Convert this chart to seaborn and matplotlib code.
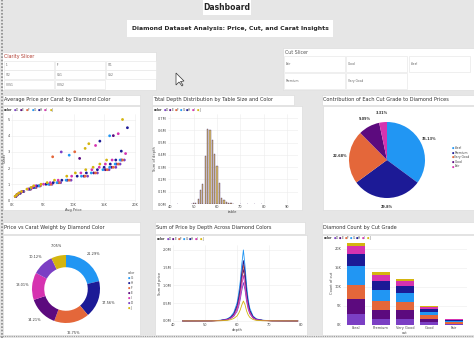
import numpy as np
import pandas as pd
import matplotlib
matplotlib.use("Agg")
import matplotlib.pyplot as plt
from matplotlib.patches import Rectangle
from matplotlib.lines import Line2D
import seaborn as sns

# ---------------- data ----------------
color_names = ["D", "E", "F", "G", "H", "I", "J"]
color_hex = {"G": "#2196f3", "H": "#1c1a96", "F": "#e4673a", "E": "#5c0a7e",
             "I": "#d633b0", "D": "#7b3fc4", "J": "#d4b50f"}

# scatter: avg price per carat, per colour
sc_carat = [0.25, 0.35, 0.45, 0.55, 0.7, 0.8, 0.9, 1.0, 1.1, 1.25, 1.5, 1.7, 1.9, 2.05, 2.25, 2.5]
sc_price_D = [620, 900, 1350, 1900, 3050, 3900, 4600, 6500, 7900, 9600, 12300, 13900, 15800, 16900, 17600, 18300]
sc_price_E = [580, 860, 1280, 1800, 2900, 3700, 4400, 6100, 7500, 9000, 11700, 13300, 15200, 16200, 17000, 17800]
sc_price_F = [600, 880, 1320, 1850, 2950, 3800, 4500, 6300, 7700, 9300, 11900, 13600, 15500, 16500, 17300, 18000]
sc_price_G = [560, 840, 1250, 1780, 2850, 3650, 4300, 5900, 7300, 8800, 11300, 12900, 14800, 15900, 16800, 17600]
sc_price_H = [530, 800, 1180, 1700, 2700, 3450, 4000, 5500, 6700, 8100, 10600, 12100, 13900, 15000, 16000, 16900]
sc_price_I = [500, 760, 1120, 1600, 2550, 3250, 3750, 5100, 6200, 7500, 9700, 11200, 13000, 14200, 15200, 16300]
sc_price_J = [470, 720, 1050, 1500, 2400, 3050, 3500, 4700, 5700, 6900, 8900, 10300, 12000, 13200, 14300, 15400]
out_color = ["J", "H", "I", "G", "E", "H", "J", "I", "D", "F", "H", "G", "J", "F", "E", "I"]
out_carat = [5.01, 4.5, 4.13, 4.0, 4.01, 3.67, 3.51, 3.4, 3.0, 3.01, 3.05, 2.8, 3.22, 2.7, 2.6, 2.9]
out_price = [18000, 18800, 17300, 15900, 16500, 14300, 12500, 13600, 8000, 10200, 17800, 9300, 11900, 6600, 11000, 18500]

# table distribution (sum of depth, millions)
table_vals = [43, 49, 50, 51, 52, 53, 54, 55, 56, 57, 58, 59, 60, 61, 62, 63, 64, 65, 66, 67, 70, 73, 76, 79, 95]
table_depth_sum = [0.001, 0.002, 0.006, 0.012, 0.04, 0.11, 0.16, 0.39, 0.61, 0.60, 0.52, 0.41, 0.31,
                   0.17, 0.05, 0.03, 0.02, 0.01, 0.006, 0.004, 0.002, 0.001, 0.001, 0.001, 0.001]

# pie: contribution of cut to price
cut_labels = ["Ideal", "Premium", "Very Good", "Good", "Fair"]
cut_share = [35.13, 29.8, 22.68, 9.09, 3.31]
cut_colors = ["#2196f3", "#1c1a96", "#e4673a", "#5c0a7e", "#d633b0"]

# donut: price share by colour
donut_labels = ["G", "H", "F", "E", "I", "D", "J"]
donut_share = [21.29, 17.56, 16.75, 14.21, 13.01, 10.12, 7.05]

# line: sum of price by depth (millions)
depths = [43, 52, 55, 57, 58, 59, 60, 60.5, 61, 61.5, 62, 62.5, 63, 63.5, 64, 65, 66, 68, 71, 79]
line_G = [0, 0.005, 0.02, 0.06, 0.12, 0.24, 0.5, 0.76, 1.1, 1.6, 2.0, 1.55, 1.0, 0.6, 0.36, 0.14, 0.06, 0.02, 0.006, 0]
line_H = [0, 0.004, 0.017, 0.05, 0.1, 0.2, 0.43, 0.65, 0.94, 1.36, 1.7, 1.38, 0.85, 0.52, 0.3, 0.12, 0.05, 0.017, 0.005, 0]
line_F = [0, 0.004, 0.016, 0.048, 0.1, 0.19, 0.4, 0.6, 0.88, 1.25, 1.58, 1.3, 0.8, 0.48, 0.28, 0.11, 0.05, 0.016, 0.005, 0]
line_E = [0, 0.003, 0.015, 0.045, 0.09, 0.18, 0.37, 0.56, 0.83, 1.2, 1.45, 1.2, 0.75, 0.45, 0.27, 0.1, 0.045, 0.015, 0.004, 0]
line_I = [0, 0.003, 0.013, 0.04, 0.08, 0.15, 0.32, 0.48, 0.7, 1.02, 1.28, 1.0, 0.64, 0.38, 0.23, 0.09, 0.04, 0.013, 0.004, 0]
line_D = [0, 0.002, 0.01, 0.03, 0.065, 0.13, 0.27, 0.4, 0.6, 0.86, 1.08, 0.88, 0.55, 0.33, 0.2, 0.08, 0.03, 0.01, 0.003, 0]
line_J = [0, 0.001, 0.006, 0.017, 0.035, 0.07, 0.14, 0.21, 0.31, 0.45, 0.56, 0.46, 0.28, 0.17, 0.1, 0.04, 0.017, 0.006, 0.002, 0]

# stacked bars: count by cut and colour
bar_D = [2834, 1603, 1513, 662, 163]
bar_E = [3903, 2337, 2400, 933, 224]
bar_F = [3826, 2331, 2164, 909, 312]
bar_G = [4884, 2924, 2299, 871, 314]
bar_H = [3115, 2360, 1824, 702, 303]
bar_I = [2093, 1428, 1204, 522, 175]
bar_J = [896, 808, 678, 307, 119]

clarity_items = ["I1", "IF", "SI1", "SI2", "VS1", "VS2", "VVS1", "VVS2"]
cut_items = ["Fair", "Good", "Ideal", "Premium", "Very Good"]

# ---------------- figure ----------------
sns.set_theme(style="white")
plt.rcParams["font.family"] = ["DejaVu Sans"]
W, H = 474, 338
fig = plt.figure(figsize=(W / 100, H / 100), dpi=100)
fig.patch.set_facecolor("#e6e6e6")


def fx(x):
    return x / W


def fy(y):
    return 1 - y / H


def box(x, y, w, h, fc="white", ec="#d8d8d8", lw=0.4):
    fig.add_artist(Rectangle((fx(x), fy(y + h)), w / W, h / H, transform=fig.transFigure,
                             facecolor=fc, edgecolor=ec, lw=lw, zorder=0))


def ax_px(x, y, w, h):
    return fig.add_axes([fx(x), fy(y + h), w / W, h / H])


def txt(x, y, s, **kw):
    return fig.text(fx(x), fy(y), s, **kw)


def legend_row(x, y, labels, step=6.0):
    txt(x, y, "color", fontsize=2.2, fontweight="bold", color="#333", va="center")
    cx = x + 9.5
    for lb in labels:
        txt(cx, y, "●", fontsize=2.0, color=color_hex[lb], va="center")
        txt(cx + 2.2, y, lb, fontsize=2.2, color="#444", va="center")
        cx += step


def style_ax(ax):
    ax.set_facecolor("white")
    for s in ax.spines.values():
        s.set_visible(False)
    ax.tick_params(labelsize=2.5, length=0, pad=1, colors="#444")
    ax.grid(True, color="#ececec", lw=0.4)


# titles
box(203, 0, 48, 15, ec="none")
txt(227, 7.5, "Dashboard", fontsize=5.5, fontweight="bold", ha="center", va="center")
box(127, 20, 206, 17, ec="none")
txt(230, 28.5, "Diamond Dataset Analysis: Price, Cut, and Carat Insights", fontsize=4.4,
    fontweight="bold", ha="center", va="center")

# clarity slicer
box(2, 52, 154, 38)
txt(4, 56.5, "Clarity Slicer", fontsize=3.4, color="#b03a2e", va="center")
cols = [4, 55, 106]
rows = [61, 70, 80]
for i, it in enumerate(clarity_items):
    r, c = divmod(i, 3)
    box(cols[c], rows[r], 50, 9, ec="#e4e4e4")
    txt(cols[c] + 2, rows[r] + 4.5, it, fontsize=2.2, color="#666", va="center")

# cut slicer
box(283, 48, 191, 42)
txt(285, 52, "Cut Slicer", fontsize=3.4, color="#555", va="center")
ccols = [284, 346, 409]
crows = [56, 73]
for i, it in enumerate(cut_items):
    r, c = divmod(i, 3)
    box(ccols[c], crows[r], 61, 16, ec="#e4e4e4")
    txt(ccols[c] + 2, crows[r] + 8, it, fontsize=2.2, color="#666", va="center")

# cursor
fig.add_artist(plt.Polygon([[fx(176), fy(73)], [fx(176), fy(85)], [fx(179), fy(82)], [fx(182), fy(86)],
                            [fx(183), fy(85)], [fx(180.5), fy(81.5)], [fx(184), fy(81)]],
                           closed=True, transform=fig.transFigure, facecolor="white",
                           edgecolor="#333", lw=0.5))

# panel boxes
panels = [(3, 95, 137, 10, 3, 106, 137, 104, "Average Price per Carat by Diamond Color"),
          (152, 95, 142, 10, 152, 106, 150, 104, "Total Depth Distribution by Table Size and Color"),
          (322, 95, 152, 10, 323, 106, 151, 104, "Contribution of Each Cut Grade to Diamond Prices"),
          (3, 222, 137, 12, 3, 235, 137, 100, "Price vs Carat Weight by Diamond Color"),
          (155, 222, 150, 12, 155, 235, 152, 100, "Sum of Price by Depth Across Diamond Colors"),
          (322, 222, 152, 12, 322, 235, 152, 100, "Diamond Count by Cut Grade")]
for tx, ty, tw, th, px, py, pw, ph, title in panels:
    box(px, py, pw, ph)
    box(tx, ty, tw, th)
    txt(tx + 1, ty + th / 2, title, fontsize=3.6, color="#333", va="center")

# ---------- scatter ----------
rows_sc = []
price_lists = {"D": sc_price_D, "E": sc_price_E, "F": sc_price_F, "G": sc_price_G,
               "H": sc_price_H, "I": sc_price_I, "J": sc_price_J}
for cname in color_names:
    for k, p in zip(sc_carat, price_lists[cname]):
        rows_sc.append((cname, k, p))
for cname, k, p in zip(out_color, out_carat, out_price):
    rows_sc.append((cname, k, p))
df_sc = pd.DataFrame(rows_sc, columns=["color", "carat", "price"])
ax1 = ax_px(11, 114, 125, 88)
style_ax(ax1)
sns.scatterplot(data=df_sc, x="price", y="carat", hue="color", palette=color_hex, s=4,
                linewidth=0, ax=ax1, legend=False)
ax1.set_xlim(-200, 20200)
ax1.set_ylim(-0.1, 5.35)
ax1.set_xticks([0, 5000, 10000, 15000, 20000])
ax1.set_xticklabels(["0K", "5K", "10K", "15K", "20K"])
ax1.set_yticks([0, 1, 2, 3, 4, 5])
ax1.set_xlabel("Avg Price", fontsize=2.6, labelpad=0.5, color="#444")
ax1.set_ylabel("Carat", fontsize=2.6, labelpad=0.5, color="#444")
legend_row(4, 109.5, color_names)

# ---------- table distribution ----------
ax2 = ax_px(168, 114, 130, 90)
style_ax(ax2)
df_tab = pd.DataFrame({"table": table_vals, "depth": table_depth_sum})
ax2.bar(df_tab["table"], df_tab["depth"], width=0.5, color="#dcc36a", edgecolor="#3b1d5e", lw=0.25)
ax2.set_xlim(39.1, 94.6)
ax2.set_ylim(0, 0.733)
ax2.set_xticks([40, 50, 60, 70, 80, 90])
ax2.set_yticks([0, 0.1, 0.2, 0.3, 0.4, 0.5, 0.6, 0.7])
ax2.set_yticklabels(["0.0M", "0.1M", "0.2M", "0.3M", "0.4M", "0.5M", "0.6M", "0.7M"])
ax2.set_xlabel("table", fontsize=2.6, labelpad=0.5, color="#444")
ax2.set_ylabel("Sum of depth", fontsize=2.6, labelpad=0.5, color="#444")
legend_row(154, 109.5, color_names, step=5.6)

# ---------- pie ----------
ax3 = ax_px(349, 122, 76, 76)
ax3.pie(cut_share, colors=cut_colors, startangle=90, counterclock=False,
        labels=[f"{v}%" for v in cut_share], labeldistance=1.24,
        textprops=dict(fontsize=2.5, fontweight="bold", color="#333", ha="center", va="center"),
        wedgeprops=dict(linewidth=0))
ax3.set_xlim(-1, 1)
ax3.set_ylim(-1, 1)
ax3.set_aspect("equal")
for i, (lb, c) in enumerate(zip(cut_labels, cut_colors)):
    yy = 148 + i * 4.6
    txt(452, yy, "●", fontsize=2.0, color=c, va="center")
    txt(454.5, yy, lb, fontsize=2.2, color="#444", va="center")

# ---------- donut ----------
ax4 = ax_px(32, 255, 68, 68)
ax4.pie(donut_share, colors=[color_hex[c] for c in donut_labels], startangle=90, counterclock=False,
        labels=[f"{v}%" for v in donut_share], labeldistance=1.3,
        textprops=dict(fontsize=2.5, color="#333", ha="center", va="center"),
        wedgeprops=dict(width=0.36, linewidth=0))
ax4.set_xlim(-1, 1)
ax4.set_ylim(-1, 1)
ax4.set_aspect("equal")
txt(128, 272.5, "color", fontsize=2.2, color="#444", va="center")
for i, lb in enumerate(donut_labels):
    yy = 278 + i * 5
    txt(128, yy, "●", fontsize=2.0, color=color_hex[lb], va="center")
    txt(130.5, yy, lb, fontsize=2.2, color="#444", va="center")

# ---------- line ----------
line_lists = {"D": line_D, "E": line_E, "F": line_F, "G": line_G, "H": line_H, "I": line_I, "J": line_J}
rows_ln = []
for cname in color_names:
    for d, v in zip(depths, line_lists[cname]):
        rows_ln.append((cname, d, v))
df_ln = pd.DataFrame(rows_ln, columns=["color", "depth", "price"])
ax5 = ax_px(173, 245, 128, 77)
style_ax(ax5)
sns.lineplot(data=df_ln, x="depth", y="price", hue="color", palette=color_hex, lw=0.6,
             ax=ax5, legend=False)
ax5.set_xlim(40, 80)
ax5.set_ylim(-0.03, 2.14)
ax5.set_xticks([40, 50, 60, 70, 80])
ax5.set_yticks([0, 0.5, 1.0, 1.5, 2.0])
ax5.set_yticklabels(["0.0M", "0.5M", "1.0M", "1.5M", "2.0M"])
ax5.set_xlabel("depth", fontsize=2.6, labelpad=0.5, color="#444")
ax5.set_ylabel("Sum of price", fontsize=2.6, labelpad=0.5, color="#444")
legend_row(157, 239, color_names, step=5.6)

# ---------- stacked bars ----------
bar_lists = {"D": bar_D, "E": bar_E, "F": bar_F, "G": bar_G, "H": bar_H, "I": bar_I, "J": bar_J}
rows_b = []
for cname in color_names:
    for cut, v in zip(cut_labels, bar_lists[cname]):
        rows_b.append((cut, cname, v))
df_b = pd.DataFrame(rows_b, columns=["cut", "color", "count"])
df_b["cut"] = pd.Categorical(df_b["cut"], categories=cut_labels, ordered=True)
ax6 = ax_px(343, 241, 124, 84)
style_ax(ax6)
ax6.grid(False)
ax6.yaxis.grid(True, color="#ececec", lw=0.4)
sns.histplot(data=df_b, x="cut", hue="color", weights="count", multiple="stack", discrete=True,
             shrink=0.75, palette=color_hex, hue_order=color_names[::-1], linewidth=0, alpha=1,
             ax=ax6, legend=False)
ax6.set_xlim(-0.55, 4.55)
ax6.set_ylim(0, 22000)
ax6.set_yticks([0, 5000, 10000, 15000, 20000])
ax6.set_yticklabels(["0K", "5K", "10K", "15K", "20K"])
ax6.set_xlabel("cut", fontsize=2.6, labelpad=0.5, color="#444")
ax6.set_ylabel("Count of cut", fontsize=2.6, labelpad=0.5, color="#444")
legend_row(324, 238, color_names, step=5.6)

# dashed borders
fig.add_artist(Line2D([fx(1.5), fx(1.5)], [0, 1], transform=fig.transFigure, color="#8a8a8a",
                      lw=1.2, ls=(0, (1, 1))))
fig.add_artist(Line2D([0, 1], [fy(335.5), fy(335.5)], transform=fig.transFigure, color="#9a9a9a",
                      lw=0.8, ls=(0, (1, 1))))

fig.savefig("out.png", dpi=100, facecolor=fig.get_facecolor())
